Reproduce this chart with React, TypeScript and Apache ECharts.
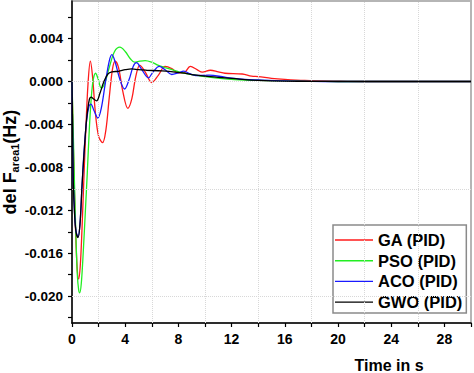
import React, { useEffect, useRef } from "react";
import * as echarts from "echarts";

const seriesNames = ["GA (PID)", "PSO (PID)", "ACO (PID)", "GWO (PID)"];
const seriesColors = ["#ff1a1a", "#22ee22", "#1a1aff", "#000000"];

const gaData: number[][] = [
  [0, 0], [0.1, -0.006], [0.2, -0.011], [0.3, -0.015], [0.4, -0.0176], [0.5, -0.0184],
  [0.62, -0.0172], [0.75, -0.0138], [0.9, -0.0088], [1.05, -0.0042], [1.2, -0.0003],
  [1.38, 0.0019], [1.55, 0.0004], [1.75, -0.0028], [2.0, -0.0051], [2.3, -0.0057],
  [2.55, -0.0045], [2.8, -0.0015], [3.05, 0.0012], [3.25, 0.0019], [3.5, 0.0013],
  [3.8, -0.0008], [4.2, -0.0025], [4.5, -0.0016], [4.8, 0.0005], [5.1, 0.0015],
  [5.5, 0.0009], [6.0, -0.0001], [6.5, 0.0006], [7.0, 0.0014], [7.5, 0.0012],
  [8.0, 0.0008], [8.4, 0.0008], [8.9, 0.0014], [9.4, 0.0011], [9.8, 0.00087],
  [10.4, 0.00105], [11.0, 0.0009], [11.5, 0.00077], [12.8, 0.0007], [13.5, 0.0005],
  [14, 0.00046], [15, 0.0003], [16, 0.0002], [17.5, 0.0001], [20, 0.00003], [22, 0], [30, 0],
];

const psoData: number[][] = [
  [0, 0], [0.1, -0.005], [0.2, -0.0102], [0.3, -0.0146], [0.4, -0.018], [0.5, -0.0194],
  [0.58, -0.0197], [0.7, -0.0188], [0.85, -0.0158], [1.0, -0.0122], [1.15, -0.0085],
  [1.3, -0.0045], [1.45, -0.0015], [1.6, 0.0002], [1.77, 0.00077], [1.95, 0.0003],
  [2.2, -0.0006], [2.45, -0.0002], [2.8, 0.0013], [3.2, 0.0028], [3.6, 0.0032],
  [4.0, 0.0028], [4.4, 0.0021], [4.7, 0.0018], [5.1, 0.0019], [5.5, 0.00195],
  [6.0, 0.0018], [6.5, 0.0015], [7.0, 0.0013], [7.8, 0.001], [8.3, 0.0008],
  [9, 0.00065], [10, 0.00045], [11.5, 0.00025], [13, 0.00013], [14, 0.0001],
  [16, 0.00004], [18, 0.00001], [20, 0], [30, 0],
];

const acoData: number[][] = [
  [0, 0], [0.05, -0.005], [0.1, -0.0093], [0.2, -0.0124], [0.3, -0.0139], [0.45, -0.0145],
  [0.6, -0.0133], [0.75, -0.0098], [0.9, -0.0066], [1.1, -0.0036], [1.28, -0.0023],
  [1.42, -0.0021], [1.65, -0.0027], [1.95, -0.0034], [2.2, -0.0025], [2.5, -0.0002],
  [2.8, 0.0019], [3.0, 0.0025], [3.25, 0.0018], [3.6, 0.0002], [3.95, -0.0007],
  [4.3, 0.0002], [4.6, 0.0014], [4.85, 0.00175], [5.2, 0.0012], [5.75, 0.00034],
  [6.1, 0.0009], [6.56, 0.0014], [7.0, 0.0011], [7.5, 0.00065], [8.0, 0.0008],
  [8.4, 0.00096], [8.9, 0.0007], [9.3, 0.00056], [10.3, 0.0006], [11.5, 0.0004],
  [13, 0.0002], [14, 0.00014], [16, 0.00005], [18, 0.00001], [20, 0], [30, 0],
];

const gwoData: number[][] = [
  [0, 0], [0.05, -0.005], [0.1, -0.0095], [0.2, -0.0125], [0.3, -0.014], [0.45, -0.01455],
  [0.6, -0.0133], [0.75, -0.0098], [0.9, -0.0068], [1.1, -0.0035], [1.3, -0.0017],
  [1.45, -0.00146], [1.6, -0.0016], [1.85, -0.0018], [2.1, -0.0011], [2.4, 0.0],
  [2.7, 0.0007], [3.0, 0.0009], [3.5, 0.00095], [4.0, 0.0011], [4.5, 0.00118],
  [5.0, 0.0011], [5.6, 0.00105], [6.5, 0.001], [7.3, 0.00095], [8.3, 0.0008],
  [9.0, 0.00065], [10.0, 0.0005], [11.5, 0.00034], [13, 0.00018], [14, 0.00011],
  [16, 0.00004], [18, 0.00001], [20, 0], [30, 0],
];

const yLabelValues = [-0.02, -0.016, -0.012, -0.008, -0.004, 0, 0.004];
const yTickValues = [-0.022, -0.02, -0.018, -0.016, -0.014, -0.012, -0.01, -0.008, -0.006, -0.004, -0.002, 0, 0.002, 0.004, 0.006];
const yGridValues = [-0.022, -0.018, -0.014, -0.01, -0.006, -0.002, 0.002, 0.006];
const xGridValues = [2, 6, 10, 14, 18, 22, 26];

const FONT = "'Liberation Sans', Arial, sans-serif";

export default function App() {
  const ref = useRef<HTMLDivElement>(null);
  useEffect(() => {
    if (!ref.current) return;
    const chart = echarts.init(ref.current, null, { renderer: "svg" });
    const dataSets = [gaData, psoData, acoData, gwoData];
    const gridLineStyle = { color: "#d8d8d8", type: "dotted" as const, width: 1 };
    chart.setOption({
      animation: false,
      backgroundColor: "#ffffff",
      grid: {
        left: 72, right: 1, top: 1, bottom: 50,
        show: true, borderColor: "#b5b5b5", borderWidth: 2,
      },
      xAxis: {
        type: "value", min: 0, max: 30, interval: 2,
        axisLine: { onZero: false, lineStyle: { color: "#000", width: 1.5 } },
        axisTick: { inside: false, length: 4, lineStyle: { color: "#000", width: 1.2 } },
        axisLabel: {
          margin: 9, color: "#000", fontFamily: FONT, fontWeight: "bold", fontSize: 14,
          formatter: (v: number) => (v % 4 === 0 && v < 30 ? String(v) : ""),
        },
        splitLine: { show: false },
      },
      yAxis: {
        type: "value", min: -0.0225, max: 0.0075,
        axisLine: { onZero: false, lineStyle: { color: "#000", width: 1.5 } },
        axisTick: { inside: false, length: 4, customValues: yTickValues, lineStyle: { color: "#000", width: 1.2 } },
        axisLabel: {
          margin: 9, color: "#000", fontFamily: FONT, fontWeight: "bold", fontSize: 13.5,
          customValues: yLabelValues,
          formatter: (v: number) => v.toFixed(3),
        },
        splitLine: { show: false },
      },
      legend: {
        orient: "vertical", left: 333, top: 225,
        padding: [6, 4, 2, 2], itemGap: 2.7, itemWidth: 38, itemHeight: 1.4,
        icon: "rect",
        backgroundColor: "#ffffff", borderColor: "#8a8a8a", borderWidth: 1.5,
        textStyle: { fontFamily: FONT, fontWeight: "bold", fontSize: 16.5, color: "#000", lineHeight: 18 },
        data: seriesNames,
      },
      graphic: [
        {
          type: "text", x: 389, y: 365,
          style: {
            text: "Time in s", fill: "#000", font: `bold 16px ${FONT}`,
            align: "center", verticalAlign: "middle",
          },
        },
        {
          type: "text", x: 10, y: 162, rotation: Math.PI / 2,
          style: {
            text: "{a|del F}{b|area1}{a|(Hz)}",
            align: "center", verticalAlign: "middle",
            rich: {
              a: { fontFamily: FONT, fontWeight: "bold", fontSize: 18, fill: "#000", lineHeight: 20, verticalAlign: "middle" },
              b: { fontFamily: FONT, fontWeight: "bold", fontSize: 11, fill: "#000", lineHeight: 10, verticalAlign: "bottom" },
            },
          },
        },
      ],
      series: [
        {
          type: "line", data: [], z: 1, silent: true,
          markLine: {
            silent: true, symbol: ["none", "none"], label: { show: false },
            lineStyle: gridLineStyle, emphasis: { disabled: true },
            data: [
              ...yGridValues.map((v) => ({ yAxis: v })),
              ...xGridValues.map((v) => ({ xAxis: v })),
            ],
          },
        },
        ...seriesNames.map((name, i) => ({
          name, type: "line", data: dataSets[i], symbol: "none", smooth: 0.35,
          z: 2 + i,
          color: seriesColors[i],
          lineStyle: { color: seriesColors[i], width: 1.3 },
        })),
      ],
    });
    return () => chart.dispose();
  }, []);
  return (
    <div
      ref={ref}
      style={{ position: "fixed", left: 0, top: 0, width: 474, height: 373, background: "#fff" }}
    />
  );
}
